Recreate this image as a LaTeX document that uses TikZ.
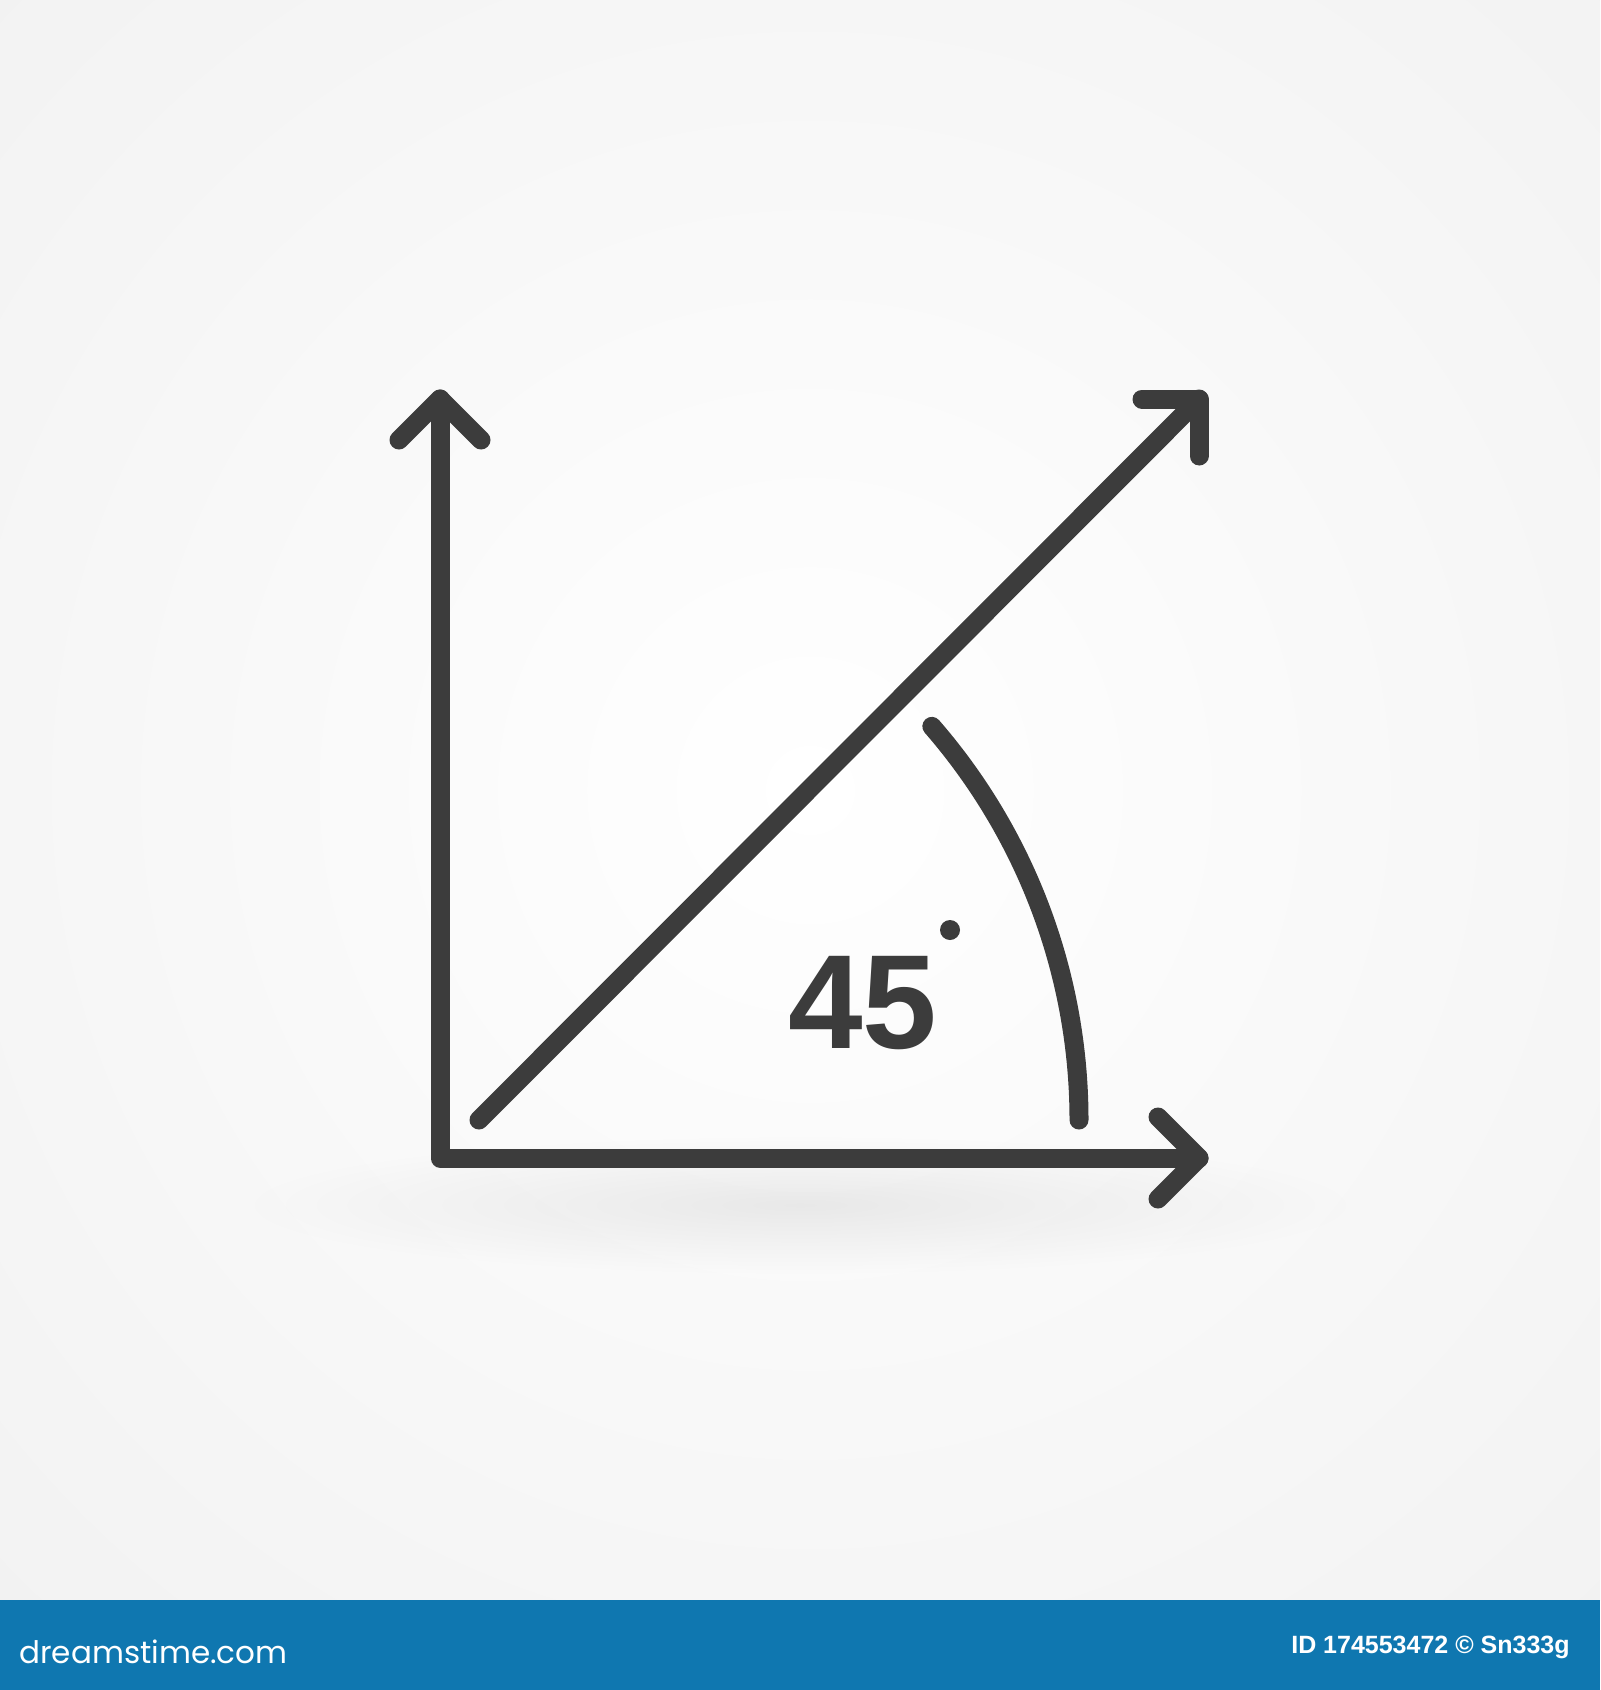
\documentclass[tikz,border=0pt]{standalone}
\usepackage{fontspec}
\setmainfont{Liberation Sans}
\newfontfamily\logofont{Poppins}
\usetikzlibrary{fadings}
\definecolor{ink}{HTML}{3C3C3C}
\definecolor{bg}{HTML}{F1F1F1}
\definecolor{band}{HTML}{0F77B0}
\tikzfading[name=softfade, inner color=transparent!0, outer color=transparent!100]
\begin{document}
\begin{tikzpicture}[x=0.5pt,y=-0.5pt,
  stroke/.style={ink, line width=9.5pt, line cap=round, line join=round}]
\useasboundingbox (0,0) rectangle (1600,1690);
\fill[bg] (0,0) rectangle (1600,1690);
\begin{scope}
\clip (0,0) rectangle (1600,1600);
\shade[inner color=white, outer color=bg] (810,790) circle[radius=1250];
\fill[black, opacity=0.07, path fading=softfade] (800,1205) ellipse[x radius=560, y radius=70];
\end{scope}
% coordinates
\coordinate (O) at (440,1158);
\coordinate (Ytip) at (440,399);
\coordinate (Xtip) at (1199,1158);
\coordinate (D0) at (479,1120);
\coordinate (Dtip) at (1199,399);
\coordinate (YL) at (399,440);
\coordinate (YR) at (481,440);
\coordinate (XU) at (1158,1117);
\coordinate (XD) at (1158,1199);
\coordinate (DL) at (1142,399);
\coordinate (DD) at (1199,456);
\coordinate (A0) at (1079,1120);
% axes
\draw[stroke] (Ytip) -- (O) -- (Xtip);
\draw[stroke] (YL) -- (Ytip) -- (YR);
\draw[stroke] (XU) -- (Xtip) -- (XD);
% diagonal
\draw[stroke] (D0) -- (Dtip);
\draw[stroke] (DL) -- (Dtip) -- (DD);
% angle arc
\draw[stroke] (A0) arc[start angle=0, end angle=-41, radius=600];
% label
\node[anchor=base west, inner sep=0, text=ink, font=\bfseries\fontsize{67}{67}\selectfont] (lbl) at (788,1048) {45};
\fill[ink] (950,930) circle[radius=10];
% banner
\fill[band] (0,1600) rectangle (1600,1690);
\node[anchor=base west, inner sep=0, text=white, font=\logofont\fontsize{15.5}{15.5}\selectfont] (logo) at (19,1663) {dreamstime.com};
\node[anchor=base east, inner sep=0, text=white, font=\bfseries\fontsize{12.5}{12.5}\selectfont] (idtxt) at (1570,1653) {ID 174553472 © Sn333g};
\end{tikzpicture}
\end{document}
